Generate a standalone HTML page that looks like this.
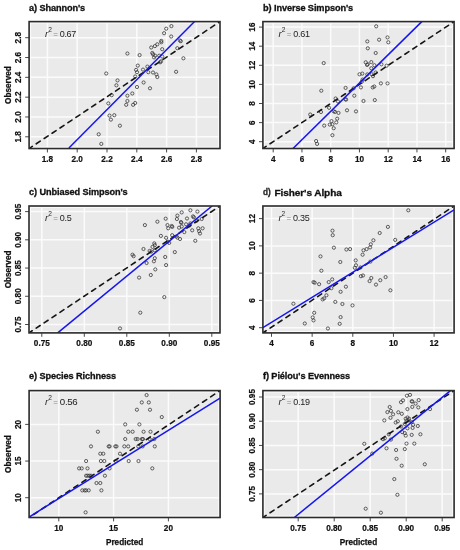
<!DOCTYPE html>
<html><head><meta charset="utf-8"><style>
html,body{margin:0;padding:0;background:#fff;}
svg{display:block;}
text{font-family:"Liberation Sans", Arial, sans-serif;fill:#1a1a1a;}
.tk{font-size:8.2px;font-weight:bold;fill:#111;stroke:#111;stroke-width:0.2px;}
.tt{font-size:9.2px;font-weight:bold;fill:#111;stroke:#111;stroke-width:0.3px;letter-spacing:-0.1px;}
.lab{font-size:8.2px;font-weight:bold;fill:#111;stroke:#111;stroke-width:0.25px;}
.r2{font-size:9.8px;fill:#2a2a2a;}
.sup{font-size:6.6px;fill:#2a2a2a;}
.eq{font-size:8px;fill:#8a8a8a;}
.num{font-size:8.7px;fill:#222;letter-spacing:-0.3px;}
</style></head><body>
<svg width="460" height="550" viewBox="0 0 460 550">
<clipPath id="c0"><rect x="29.1" y="21.6" width="190.9" height="126.95"/></clipPath>
<rect x="29.1" y="21.6" width="190.9" height="126.95" fill="#eaeaea"/>
<path d="M47.4 21.6V148.55M77.2 21.6V148.55M107 21.6V148.55M136.8 21.6V148.55M166.6 21.6V148.55M196.4 21.6V148.55M29.1 136.8H220M29.1 116.98H220M29.1 97.16H220M29.1 77.34H220M29.1 57.52H220M29.1 37.7H220" stroke="#fbfbfb" stroke-width="1.5" fill="none"/>
<rect x="30.5" y="23" width="188.1" height="124.15" fill="none" stroke="#fafafa" stroke-width="1.1"/>
<g fill="none" stroke="#3a3a3a" stroke-width="0.8"><circle cx="171.4" cy="26.1" r="1.6"/><circle cx="166.2" cy="28.7" r="1.6"/><circle cx="164.1" cy="33.2" r="1.6"/><circle cx="171.2" cy="36.5" r="1.6"/><circle cx="161.3" cy="40.9" r="1.6"/><circle cx="161.3" cy="42.3" r="1.6"/><circle cx="179.9" cy="40.5" r="1.6"/><circle cx="180.8" cy="41.2" r="1.6"/><circle cx="157.3" cy="44.3" r="1.6"/><circle cx="154.9" cy="46.1" r="1.6"/><circle cx="151.2" cy="47.5" r="1.6"/><circle cx="162.2" cy="49.2" r="1.6"/><circle cx="177.3" cy="48.2" r="1.6"/><circle cx="152.3" cy="53" r="1.6"/><circle cx="153" cy="54.3" r="1.6"/><circle cx="155.2" cy="55.7" r="1.6"/><circle cx="139.6" cy="55.1" r="1.6"/><circle cx="159.2" cy="55.7" r="1.6"/><circle cx="162.2" cy="56.5" r="1.6"/><circle cx="154" cy="57.4" r="1.6"/><circle cx="183.4" cy="58.3" r="1.6"/><circle cx="160.1" cy="62.3" r="1.6"/><circle cx="161" cy="61.4" r="1.6"/><circle cx="137.8" cy="65.6" r="1.6"/><circle cx="147.4" cy="66.6" r="1.6"/><circle cx="143" cy="69.6" r="1.6"/><circle cx="136.1" cy="69.9" r="1.6"/><circle cx="137" cy="72.2" r="1.6"/><circle cx="148.3" cy="72.2" r="1.6"/><circle cx="153" cy="72.5" r="1.6"/><circle cx="176.1" cy="71.8" r="1.6"/><circle cx="156.4" cy="74.4" r="1.6"/><circle cx="157.3" cy="77" r="1.6"/><circle cx="135.2" cy="76.5" r="1.6"/><circle cx="106.2" cy="73.5" r="1.6"/><circle cx="117.5" cy="80.4" r="1.6"/><circle cx="116.4" cy="85.3" r="1.6"/><circle cx="143.6" cy="82.5" r="1.6"/><circle cx="150" cy="88.3" r="1.6"/><circle cx="137" cy="87" r="1.6"/><circle cx="132.3" cy="93.5" r="1.6"/><circle cx="127.4" cy="95.7" r="1.6"/><circle cx="111.7" cy="95.2" r="1.6"/><circle cx="127.4" cy="101" r="1.6"/><circle cx="108.3" cy="103.4" r="1.6"/><circle cx="126.2" cy="104.8" r="1.6"/><circle cx="133.1" cy="104.8" r="1.6"/><circle cx="135.2" cy="103" r="1.6"/><circle cx="109.5" cy="115.6" r="1.6"/><circle cx="114.3" cy="115.2" r="1.6"/><circle cx="110.9" cy="119.6" r="1.6"/><circle cx="119.9" cy="125.7" r="1.6"/><circle cx="98.7" cy="134.3" r="1.6"/><circle cx="101.3" cy="143.9" r="1.6"/><circle cx="127.4" cy="53.5" r="1.6"/></g>
<g clip-path="url(#c0)">
<path d="M29.1 148.55L220 21.6" stroke="#151515" stroke-width="1.6" stroke-dasharray="4.76 4.76" stroke-dashoffset="0.92" stroke-linecap="round" fill="none"/>
<path d="M68.9 148L194.6 21.5" stroke="#1515f0" stroke-width="1.5" fill="none"/>
</g>
<rect x="29.1" y="21.6" width="190.9" height="126.95" fill="none" stroke="#2b2b2b" stroke-width="1.6"/>
<path d="M47.4 148.55v3.9M77.2 148.55v3.9M107 148.55v3.9M136.8 148.55v3.9M166.6 148.55v3.9M196.4 148.55v3.9M29.1 136.8h-3.9M29.1 116.98h-3.9M29.1 97.16h-3.9M29.1 77.34h-3.9M29.1 57.52h-3.9M29.1 37.7h-3.9" stroke="#333" stroke-width="0.9" fill="none"/>
<text class="tk" x="47.4" y="162" text-anchor="middle">1.8</text>
<text class="tk" x="77.2" y="162" text-anchor="middle">2.0</text>
<text class="tk" x="107" y="162" text-anchor="middle">2.2</text>
<text class="tk" x="136.8" y="162" text-anchor="middle">2.4</text>
<text class="tk" x="166.6" y="162" text-anchor="middle">2.6</text>
<text class="tk" x="196.4" y="162" text-anchor="middle">2.8</text>
<text class="tk" transform="translate(20.8 136.8) rotate(-90)" text-anchor="middle">1.8</text>
<text class="tk" transform="translate(20.8 116.98) rotate(-90)" text-anchor="middle">2.0</text>
<text class="tk" transform="translate(20.8 97.16) rotate(-90)" text-anchor="middle">2.2</text>
<text class="tk" transform="translate(20.8 77.34) rotate(-90)" text-anchor="middle">2.4</text>
<text class="tk" transform="translate(20.8 57.52) rotate(-90)" text-anchor="middle">2.6</text>
<text class="tk" transform="translate(20.8 37.7) rotate(-90)" text-anchor="middle">2.8</text>
<text class="tt" x="29" y="10.5">a) Shannon&#39;s</text>
<text class="r2" x="45" y="36.6" font-style="italic">r</text>
<text class="sup" x="48.2" y="31.9">2</text>
<text class="eq" x="53.2" y="36.8">=</text>
<text class="num" x="59.7" y="36.6" style="font-size:9px">0.67</text>
<text class="lab" transform="translate(11.3 85.08) rotate(-90)" text-anchor="middle">Observed</text>
<clipPath id="c1"><rect x="262.9" y="21.6" width="191.2" height="126.9"/></clipPath>
<rect x="262.9" y="21.6" width="191.2" height="126.9" fill="#eaeaea"/>
<path d="M273.2 21.6V148.5M301.95 21.6V148.5M330.7 21.6V148.5M359.45 21.6V148.5M388.2 21.6V148.5M416.95 21.6V148.5M445.7 21.6V148.5M262.9 141.7H454.1M262.9 122.6H454.1M262.9 103.5H454.1M262.9 84.4H454.1M262.9 65.3H454.1M262.9 46.2H454.1M262.9 27.1H454.1" stroke="#fbfbfb" stroke-width="1.5" fill="none"/>
<rect x="264.3" y="23" width="188.4" height="124.1" fill="none" stroke="#fafafa" stroke-width="1.1"/>
<g fill="none" stroke="#3a3a3a" stroke-width="0.8"><circle cx="376.2" cy="26.3" r="1.6"/><circle cx="367.3" cy="41.4" r="1.6"/><circle cx="379.1" cy="39.7" r="1.6"/><circle cx="387.5" cy="37.4" r="1.6"/><circle cx="388.3" cy="42.3" r="1.6"/><circle cx="367.8" cy="48.3" r="1.6"/><circle cx="375.7" cy="53" r="1.6"/><circle cx="365.7" cy="62.3" r="1.6"/><circle cx="367" cy="64.9" r="1.6"/><circle cx="367.8" cy="64.3" r="1.6"/><circle cx="371.3" cy="62.1" r="1.6"/><circle cx="374.4" cy="65.2" r="1.6"/><circle cx="381.4" cy="64.3" r="1.6"/><circle cx="386.6" cy="65.7" r="1.6"/><circle cx="371.3" cy="68.3" r="1.6"/><circle cx="359.5" cy="74.3" r="1.6"/><circle cx="362.3" cy="73.6" r="1.6"/><circle cx="367.3" cy="74.4" r="1.6"/><circle cx="371.8" cy="74.3" r="1.6"/><circle cx="375.7" cy="72.5" r="1.6"/><circle cx="373" cy="76.2" r="1.6"/><circle cx="362.6" cy="79.6" r="1.6"/><circle cx="361.7" cy="81.8" r="1.6"/><circle cx="345.6" cy="87.9" r="1.6"/><circle cx="353.6" cy="88.3" r="1.6"/><circle cx="360.9" cy="87.4" r="1.6"/><circle cx="372.7" cy="87.4" r="1.6"/><circle cx="374.3" cy="86.5" r="1.6"/><circle cx="380.9" cy="83.4" r="1.6"/><circle cx="387.5" cy="83.4" r="1.6"/><circle cx="346.1" cy="99.6" r="1.6"/><circle cx="354.3" cy="95.7" r="1.6"/><circle cx="363.5" cy="101" r="1.6"/><circle cx="374.8" cy="100.1" r="1.6"/><circle cx="347" cy="110.3" r="1.6"/><circle cx="356" cy="111.4" r="1.6"/><circle cx="321.3" cy="90.7" r="1.6"/><circle cx="335.6" cy="98.5" r="1.6"/><circle cx="338" cy="101.5" r="1.6"/><circle cx="345.4" cy="99.3" r="1.6"/><circle cx="329.1" cy="107.8" r="1.6"/><circle cx="321" cy="112" r="1.6"/><circle cx="310.2" cy="114.5" r="1.6"/><circle cx="333.7" cy="111.3" r="1.6"/><circle cx="335" cy="111.9" r="1.6"/><circle cx="338.5" cy="112.9" r="1.6"/><circle cx="337.2" cy="118.7" r="1.6"/><circle cx="331.5" cy="121.1" r="1.6"/><circle cx="336.3" cy="122.4" r="1.6"/><circle cx="329.8" cy="124.6" r="1.6"/><circle cx="332.4" cy="124.3" r="1.6"/><circle cx="324.2" cy="125.6" r="1.6"/><circle cx="333.7" cy="128.2" r="1.6"/><circle cx="332.4" cy="135.2" r="1.6"/><circle cx="316.1" cy="141" r="1.6"/><circle cx="317.1" cy="143.9" r="1.6"/><circle cx="323.7" cy="63.1" r="1.6"/></g>
<g clip-path="url(#c1)">
<path d="M262.9 148.5L454.1 21.6" stroke="#151515" stroke-width="1.6" stroke-dasharray="4.76 4.76" stroke-dashoffset="0.92" stroke-linecap="round" fill="none"/>
<path d="M293 148.5L421.8 21.6" stroke="#1515f0" stroke-width="1.5" fill="none"/>
</g>
<rect x="262.9" y="21.6" width="191.2" height="126.9" fill="none" stroke="#2b2b2b" stroke-width="1.6"/>
<path d="M273.2 148.5v3.9M301.95 148.5v3.9M330.7 148.5v3.9M359.45 148.5v3.9M388.2 148.5v3.9M416.95 148.5v3.9M445.7 148.5v3.9M262.9 141.7h-3.9M262.9 122.6h-3.9M262.9 103.5h-3.9M262.9 84.4h-3.9M262.9 65.3h-3.9M262.9 46.2h-3.9M262.9 27.1h-3.9" stroke="#333" stroke-width="0.9" fill="none"/>
<text class="tk" x="273.2" y="161.95" text-anchor="middle">4</text>
<text class="tk" x="301.95" y="161.95" text-anchor="middle">6</text>
<text class="tk" x="330.7" y="161.95" text-anchor="middle">8</text>
<text class="tk" x="359.45" y="161.95" text-anchor="middle">10</text>
<text class="tk" x="388.2" y="161.95" text-anchor="middle">12</text>
<text class="tk" x="416.95" y="161.95" text-anchor="middle">14</text>
<text class="tk" x="445.7" y="161.95" text-anchor="middle">16</text>
<text class="tk" transform="translate(254.6 141.7) rotate(-90)" text-anchor="middle">4</text>
<text class="tk" transform="translate(254.6 122.6) rotate(-90)" text-anchor="middle">6</text>
<text class="tk" transform="translate(254.6 103.5) rotate(-90)" text-anchor="middle">8</text>
<text class="tk" transform="translate(254.6 84.4) rotate(-90)" text-anchor="middle">10</text>
<text class="tk" transform="translate(254.6 65.3) rotate(-90)" text-anchor="middle">12</text>
<text class="tk" transform="translate(254.6 46.2) rotate(-90)" text-anchor="middle">14</text>
<text class="tk" transform="translate(254.6 27.1) rotate(-90)" text-anchor="middle">16</text>
<text class="tt" x="263" y="10.5">b) Inverse Simpson&#39;s</text>
<text class="r2" x="278.6" y="36.6" font-style="italic">r</text>
<text class="sup" x="281.8" y="31.9">2</text>
<text class="eq" x="286.8" y="36.8">=</text>
<text class="num" x="293.3" y="36.6" style="font-size:9px">0.61</text>
<clipPath id="c2"><rect x="29" y="206" width="191" height="126.9"/></clipPath>
<rect x="29" y="206" width="191" height="126.9" fill="#eaeaea"/>
<path d="M41.8 206V332.9M84.3 206V332.9M126.8 206V332.9M169.3 206V332.9M211.8 206V332.9M29 324.5H220M29 296.27H220M29 268.05H220M29 239.82H220M29 211.6H220" stroke="#fbfbfb" stroke-width="1.5" fill="none"/>
<rect x="30.4" y="207.4" width="188.2" height="124.1" fill="none" stroke="#fafafa" stroke-width="1.1"/>
<g fill="none" stroke="#3a3a3a" stroke-width="0.8"><circle cx="190.4" cy="210.3" r="1.6"/><circle cx="197.4" cy="211.6" r="1.6"/><circle cx="181.7" cy="212.4" r="1.6"/><circle cx="177.4" cy="215.6" r="1.6"/><circle cx="176.9" cy="219" r="1.6"/><circle cx="187" cy="218.5" r="1.6"/><circle cx="193" cy="216.4" r="1.6"/><circle cx="193.9" cy="217.3" r="1.6"/><circle cx="201.7" cy="219" r="1.6"/><circle cx="165.7" cy="218.7" r="1.6"/><circle cx="157.4" cy="221.7" r="1.6"/><circle cx="144.9" cy="225.1" r="1.6"/><circle cx="180.9" cy="222" r="1.6"/><circle cx="181.4" cy="222.9" r="1.6"/><circle cx="186.1" cy="224.3" r="1.6"/><circle cx="190.4" cy="223.4" r="1.6"/><circle cx="196.5" cy="220.8" r="1.6"/><circle cx="167.5" cy="225.1" r="1.6"/><circle cx="171.7" cy="226" r="1.6"/><circle cx="172.3" cy="226.9" r="1.6"/><circle cx="168.2" cy="228.3" r="1.6"/><circle cx="179.1" cy="227.7" r="1.6"/><circle cx="181.7" cy="226.5" r="1.6"/><circle cx="198.3" cy="228.3" r="1.6"/><circle cx="202.6" cy="228.3" r="1.6"/><circle cx="192.2" cy="230.3" r="1.6"/><circle cx="199.1" cy="231.2" r="1.6"/><circle cx="200" cy="233.5" r="1.6"/><circle cx="184.3" cy="232.1" r="1.6"/><circle cx="160.9" cy="235.9" r="1.6"/><circle cx="172.2" cy="235.2" r="1.6"/><circle cx="177.4" cy="237.7" r="1.6"/><circle cx="176.5" cy="236.4" r="1.6"/><circle cx="180" cy="239" r="1.6"/><circle cx="166.1" cy="237.8" r="1.6"/><circle cx="167.8" cy="241.7" r="1.6"/><circle cx="169.2" cy="242.9" r="1.6"/><circle cx="195.3" cy="240.8" r="1.6"/><circle cx="154.3" cy="243.4" r="1.6"/><circle cx="154.8" cy="245.1" r="1.6"/><circle cx="152.5" cy="246.9" r="1.6"/><circle cx="143.5" cy="249" r="1.6"/><circle cx="149.6" cy="250.9" r="1.6"/><circle cx="151.3" cy="251.6" r="1.6"/><circle cx="154.8" cy="250.3" r="1.6"/><circle cx="174.8" cy="252.1" r="1.6"/><circle cx="165.2" cy="257" r="1.6"/><circle cx="154.8" cy="258.2" r="1.6"/><circle cx="153.9" cy="261.3" r="1.6"/><circle cx="146.6" cy="263" r="1.6"/><circle cx="166.1" cy="265.1" r="1.6"/><circle cx="155.3" cy="269.4" r="1.6"/><circle cx="150.8" cy="275" r="1.6"/><circle cx="139.1" cy="277.6" r="1.6"/><circle cx="164.3" cy="297.1" r="1.6"/><circle cx="140.3" cy="312.7" r="1.6"/><circle cx="120" cy="328.4" r="1.6"/><circle cx="132.5" cy="254.7" r="1.6"/><circle cx="133.6" cy="256.2" r="1.6"/><circle cx="189.5" cy="225.5" r="1.6"/></g>
<g clip-path="url(#c2)">
<path d="M29 332.9L220 206" stroke="#151515" stroke-width="1.6" stroke-dasharray="4.76 4.76" stroke-dashoffset="0.92" stroke-linecap="round" fill="none"/>
<path d="M57.7 332.9L212.1 206" stroke="#1515f0" stroke-width="1.5" fill="none"/>
</g>
<rect x="29" y="206" width="191" height="126.9" fill="none" stroke="#2b2b2b" stroke-width="1.6"/>
<path d="M41.8 332.9v3.9M84.3 332.9v3.9M126.8 332.9v3.9M169.3 332.9v3.9M211.8 332.9v3.9M29 324.5h-3.9M29 296.27h-3.9M29 268.05h-3.9M29 239.82h-3.9M29 211.6h-3.9" stroke="#333" stroke-width="0.9" fill="none"/>
<text class="tk" x="41.8" y="346.35" text-anchor="middle">0.75</text>
<text class="tk" x="84.3" y="346.35" text-anchor="middle">0.80</text>
<text class="tk" x="126.8" y="346.35" text-anchor="middle">0.85</text>
<text class="tk" x="169.3" y="346.35" text-anchor="middle">0.90</text>
<text class="tk" x="211.8" y="346.35" text-anchor="middle">0.95</text>
<text class="tk" transform="translate(20.7 324.5) rotate(-90)" text-anchor="middle">0.75</text>
<text class="tk" transform="translate(20.7 296.27) rotate(-90)" text-anchor="middle">0.80</text>
<text class="tk" transform="translate(20.7 268.05) rotate(-90)" text-anchor="middle">0.85</text>
<text class="tk" transform="translate(20.7 239.82) rotate(-90)" text-anchor="middle">0.90</text>
<text class="tk" transform="translate(20.7 211.6) rotate(-90)" text-anchor="middle">0.95</text>
<text class="tt" x="29" y="195">c) Unbiased Simpson&#39;s</text>
<text class="r2" x="45.1" y="220.9" font-style="italic">r</text>
<text class="sup" x="48.3" y="216.2">2</text>
<text class="eq" x="53.3" y="221.1">=</text>
<text class="num" x="59.8" y="220.9" style="font-size:9px">0.5</text>
<text class="lab" transform="translate(11.3 269.45) rotate(-90)" text-anchor="middle">Observed</text>
<clipPath id="c3"><rect x="262.9" y="206" width="191.2" height="126.9"/></clipPath>
<rect x="262.9" y="206" width="191.2" height="126.9" fill="#eaeaea"/>
<path d="M271.5 206V332.9M312.15 206V332.9M352.8 206V332.9M393.45 206V332.9M434.1 206V332.9M262.9 327.7H454.1M262.9 300.42H454.1M262.9 273.15H454.1M262.9 245.88H454.1M262.9 218.6H454.1" stroke="#fbfbfb" stroke-width="1.5" fill="none"/>
<rect x="264.3" y="207.4" width="188.4" height="124.1" fill="none" stroke="#fafafa" stroke-width="1.1"/>
<g fill="none" stroke="#3a3a3a" stroke-width="0.8"><circle cx="332.5" cy="230.7" r="1.6"/><circle cx="332.7" cy="235.2" r="1.6"/><circle cx="333.9" cy="247.7" r="1.6"/><circle cx="320.5" cy="256.4" r="1.6"/><circle cx="340.3" cy="262" r="1.6"/><circle cx="346.4" cy="249.5" r="1.6"/><circle cx="350.1" cy="249.1" r="1.6"/><circle cx="355.7" cy="260.4" r="1.6"/><circle cx="356" cy="265.3" r="1.6"/><circle cx="362.6" cy="254.7" r="1.6"/><circle cx="363.5" cy="250.3" r="1.6"/><circle cx="366.6" cy="249.1" r="1.6"/><circle cx="370.1" cy="247.4" r="1.6"/><circle cx="370.8" cy="244.3" r="1.6"/><circle cx="373.4" cy="240.3" r="1.6"/><circle cx="379.7" cy="233" r="1.6"/><circle cx="408.3" cy="210.3" r="1.6"/><circle cx="387.9" cy="226.9" r="1.6"/><circle cx="395.2" cy="239.9" r="1.6"/><circle cx="321.4" cy="270.7" r="1.6"/><circle cx="313.5" cy="282.1" r="1.6"/><circle cx="314.7" cy="282.7" r="1.6"/><circle cx="319.1" cy="284.2" r="1.6"/><circle cx="328.7" cy="282.1" r="1.6"/><circle cx="332.2" cy="279.4" r="1.6"/><circle cx="331.4" cy="288.2" r="1.6"/><circle cx="345.9" cy="286.7" r="1.6"/><circle cx="340.6" cy="291.8" r="1.6"/><circle cx="326.4" cy="295.3" r="1.6"/><circle cx="322.6" cy="299.4" r="1.6"/><circle cx="324.1" cy="298.4" r="1.6"/><circle cx="335.3" cy="301.9" r="1.6"/><circle cx="342.4" cy="304" r="1.6"/><circle cx="293.4" cy="303.7" r="1.6"/><circle cx="314.2" cy="312.8" r="1.6"/><circle cx="312.7" cy="317.4" r="1.6"/><circle cx="313.5" cy="320.4" r="1.6"/><circle cx="304.8" cy="323.5" r="1.6"/><circle cx="340.6" cy="317.1" r="1.6"/><circle cx="339.7" cy="323.8" r="1.6"/><circle cx="327.9" cy="328.5" r="1.6"/><circle cx="354.8" cy="267.8" r="1.6"/><circle cx="360.5" cy="267.5" r="1.6"/><circle cx="370.4" cy="261.6" r="1.6"/><circle cx="360.9" cy="276.2" r="1.6"/><circle cx="363" cy="275.5" r="1.6"/><circle cx="371.3" cy="278" r="1.6"/><circle cx="369.6" cy="281.1" r="1.6"/><circle cx="380.3" cy="280.2" r="1.6"/><circle cx="385.6" cy="277.1" r="1.6"/><circle cx="376" cy="284.6" r="1.6"/><circle cx="390.4" cy="290.3" r="1.6"/><circle cx="352.5" cy="305.4" r="1.6"/></g>
<g clip-path="url(#c3)">
<path d="M262.9 332.9L454.1 206" stroke="#151515" stroke-width="1.6" stroke-dasharray="4.76 4.76" stroke-dashoffset="0.92" stroke-linecap="round" fill="none"/>
<path d="M262.9 327.6L454.1 209.9" stroke="#1515f0" stroke-width="1.5" fill="none"/>
</g>
<rect x="262.9" y="206" width="191.2" height="126.9" fill="none" stroke="#2b2b2b" stroke-width="1.6"/>
<path d="M271.5 332.9v3.9M312.15 332.9v3.9M352.8 332.9v3.9M393.45 332.9v3.9M434.1 332.9v3.9M262.9 327.7h-3.9M262.9 300.42h-3.9M262.9 273.15h-3.9M262.9 245.88h-3.9M262.9 218.6h-3.9" stroke="#333" stroke-width="0.9" fill="none"/>
<text class="tk" x="271.5" y="346.35" text-anchor="middle">4</text>
<text class="tk" x="312.15" y="346.35" text-anchor="middle">6</text>
<text class="tk" x="352.8" y="346.35" text-anchor="middle">8</text>
<text class="tk" x="393.45" y="346.35" text-anchor="middle">10</text>
<text class="tk" x="434.1" y="346.35" text-anchor="middle">12</text>
<text class="tk" transform="translate(254.6 327.7) rotate(-90)" text-anchor="middle">4</text>
<text class="tk" transform="translate(254.6 300.42) rotate(-90)" text-anchor="middle">6</text>
<text class="tk" transform="translate(254.6 273.15) rotate(-90)" text-anchor="middle">8</text>
<text class="tk" transform="translate(254.6 245.88) rotate(-90)" text-anchor="middle">10</text>
<text class="tk" transform="translate(254.6 218.6) rotate(-90)" text-anchor="middle">12</text>
<text class="tt" x="263" y="195" style="font-size:8.2px;fill:#333">d)</text>
<text class="tt" x="274.5" y="195.5" style="font-size:9.9px" textLength="67.2" lengthAdjust="spacingAndGlyphs">Fisher&#39;s Alpha</text>
<text class="r2" x="278.4" y="220.8" font-style="italic">r</text>
<text class="sup" x="281.6" y="216.1">2</text>
<text class="eq" x="286.6" y="221">=</text>
<text class="num" x="293.1" y="220.8" style="font-size:9px">0.35</text>
<clipPath id="c4"><rect x="29.1" y="390.6" width="191" height="126.9"/></clipPath>
<rect x="29.1" y="390.6" width="191" height="126.9" fill="#eaeaea"/>
<path d="M58.8 390.6V517.5M113.6 390.6V517.5M168.4 390.6V517.5M29.1 497.7H220.1M29.1 461.05H220.1M29.1 424.4H220.1" stroke="#fbfbfb" stroke-width="1.5" fill="none"/>
<rect x="30.5" y="392" width="188.2" height="124.1" fill="none" stroke="#fafafa" stroke-width="1.1"/>
<g fill="none" stroke="#3a3a3a" stroke-width="0.8"><circle cx="146.6" cy="395.08" r="1.6"/><circle cx="141.8" cy="402.41" r="1.6"/><circle cx="148.8" cy="402.41" r="1.6"/><circle cx="136.9" cy="409.74" r="1.6"/><circle cx="150" cy="409.74" r="1.6"/><circle cx="161.8" cy="417.07" r="1.6"/><circle cx="125.2" cy="424.4" r="1.6"/><circle cx="139.4" cy="424.4" r="1.6"/><circle cx="97.9" cy="431.73" r="1.6"/><circle cx="128.3" cy="431.73" r="1.6"/><circle cx="132.6" cy="431.73" r="1.6"/><circle cx="143.6" cy="431.73" r="1.6"/><circle cx="150.5" cy="431.73" r="1.6"/><circle cx="125.2" cy="439.06" r="1.6"/><circle cx="135.7" cy="439.06" r="1.6"/><circle cx="137.6" cy="439.06" r="1.6"/><circle cx="141.9" cy="439.06" r="1.6"/><circle cx="143" cy="439.06" r="1.6"/><circle cx="149.7" cy="439.06" r="1.6"/><circle cx="154.3" cy="439.06" r="1.6"/><circle cx="91" cy="446.39" r="1.6"/><circle cx="108.7" cy="446.39" r="1.6"/><circle cx="109.6" cy="446.39" r="1.6"/><circle cx="115.3" cy="446.39" r="1.6"/><circle cx="116.5" cy="446.39" r="1.6"/><circle cx="124.3" cy="446.39" r="1.6"/><circle cx="128.2" cy="446.39" r="1.6"/><circle cx="138.3" cy="446.39" r="1.6"/><circle cx="142.6" cy="446.39" r="1.6"/><circle cx="154.8" cy="446.39" r="1.6"/><circle cx="100.3" cy="453.72" r="1.6"/><circle cx="103.3" cy="453.72" r="1.6"/><circle cx="120" cy="453.72" r="1.6"/><circle cx="86.1" cy="461.05" r="1.6"/><circle cx="100.9" cy="461.05" r="1.6"/><circle cx="104.3" cy="461.05" r="1.6"/><circle cx="115.7" cy="461.05" r="1.6"/><circle cx="128.7" cy="461.05" r="1.6"/><circle cx="138.5" cy="461.05" r="1.6"/><circle cx="79.1" cy="468.38" r="1.6"/><circle cx="81.7" cy="468.38" r="1.6"/><circle cx="87.5" cy="468.38" r="1.6"/><circle cx="109.6" cy="468.38" r="1.6"/><circle cx="152.3" cy="468.38" r="1.6"/><circle cx="86.1" cy="475.71" r="1.6"/><circle cx="87.5" cy="475.71" r="1.6"/><circle cx="89.2" cy="475.71" r="1.6"/><circle cx="91" cy="475.71" r="1.6"/><circle cx="104.9" cy="475.71" r="1.6"/><circle cx="96.5" cy="483.04" r="1.6"/><circle cx="100.3" cy="483.04" r="1.6"/><circle cx="82.3" cy="490.37" r="1.6"/><circle cx="84.7" cy="490.37" r="1.6"/><circle cx="86.1" cy="490.37" r="1.6"/><circle cx="88.7" cy="490.37" r="1.6"/><circle cx="101.4" cy="490.37" r="1.6"/><circle cx="85.6" cy="512.36" r="1.6"/></g>
<g clip-path="url(#c4)">
<path d="M29.1 517.5L220.1 390.6" stroke="#151515" stroke-width="1.6" stroke-dasharray="4.83 4.83" stroke-dashoffset="4.2" stroke-linecap="round" fill="none"/>
<path d="M29.1 517L220.1 398.1" stroke="#1515f0" stroke-width="1.5" fill="none"/>
</g>
<rect x="29.1" y="390.6" width="191" height="126.9" fill="none" stroke="#2b2b2b" stroke-width="1.6"/>
<path d="M58.8 517.5v3.9M113.6 517.5v3.9M168.4 517.5v3.9M29.1 497.7h-3.9M29.1 461.05h-3.9M29.1 424.4h-3.9" stroke="#333" stroke-width="0.9" fill="none"/>
<text class="tk" x="58.8" y="530.95" text-anchor="middle">10</text>
<text class="tk" x="113.6" y="530.95" text-anchor="middle">15</text>
<text class="tk" x="168.4" y="530.95" text-anchor="middle">20</text>
<text class="tk" transform="translate(20.8 497.7) rotate(-90)" text-anchor="middle">10</text>
<text class="tk" transform="translate(20.8 461.05) rotate(-90)" text-anchor="middle">15</text>
<text class="tk" transform="translate(20.8 424.4) rotate(-90)" text-anchor="middle">20</text>
<text class="tt" x="29" y="379.3">e) Species Richness</text>
<text class="r2" x="45.1" y="405.1" font-style="italic">r</text>
<text class="sup" x="48.3" y="400.4">2</text>
<text class="eq" x="53.3" y="405.3">=</text>
<text class="num" x="59.8" y="405.1" style="font-size:9.7px">0.56</text>
<text class="lab" transform="translate(11.3 454.05) rotate(-90)" text-anchor="middle">Observed</text>
<text class="lab" x="124.6" y="545.1" text-anchor="middle">Predicted</text>
<clipPath id="c5"><rect x="262.9" y="390.6" width="191.2" height="126.9"/></clipPath>
<rect x="262.9" y="390.6" width="191.2" height="126.9" fill="#eaeaea"/>
<path d="M298.2 390.6V517.5M334.2 390.6V517.5M370.2 390.6V517.5M406.2 390.6V517.5M442.2 390.6V517.5M262.9 493.9H454.1M262.9 469.67H454.1M262.9 445.45H454.1M262.9 421.22H454.1M262.9 397H454.1" stroke="#fbfbfb" stroke-width="1.5" fill="none"/>
<rect x="264.3" y="392" width="188.4" height="124.1" fill="none" stroke="#fafafa" stroke-width="1.1"/>
<g fill="none" stroke="#3a3a3a" stroke-width="0.8"><circle cx="406.9" cy="395.7" r="1.6"/><circle cx="410" cy="394.9" r="1.6"/><circle cx="401" cy="402.2" r="1.6"/><circle cx="403" cy="400.4" r="1.6"/><circle cx="411.7" cy="401.3" r="1.6"/><circle cx="412.3" cy="401.5" r="1.6"/><circle cx="415.6" cy="403.6" r="1.6"/><circle cx="418.7" cy="400.1" r="1.6"/><circle cx="412.3" cy="406.9" r="1.6"/><circle cx="418.3" cy="407.4" r="1.6"/><circle cx="407.4" cy="409.1" r="1.6"/><circle cx="389.7" cy="407" r="1.6"/><circle cx="387.4" cy="412.1" r="1.6"/><circle cx="390.9" cy="410.9" r="1.6"/><circle cx="393.1" cy="414.3" r="1.6"/><circle cx="398.3" cy="412.3" r="1.6"/><circle cx="401.8" cy="413.8" r="1.6"/><circle cx="390.5" cy="417.8" r="1.6"/><circle cx="384.3" cy="420.4" r="1.6"/><circle cx="395.7" cy="422.5" r="1.6"/><circle cx="397.8" cy="421.3" r="1.6"/><circle cx="405.7" cy="418.7" r="1.6"/><circle cx="407.4" cy="417.5" r="1.6"/><circle cx="409.1" cy="418.7" r="1.6"/><circle cx="406.5" cy="421" r="1.6"/><circle cx="408.6" cy="420.4" r="1.6"/><circle cx="404.8" cy="423.9" r="1.6"/><circle cx="411.7" cy="422.2" r="1.6"/><circle cx="401" cy="426.5" r="1.6"/><circle cx="407.4" cy="428.3" r="1.6"/><circle cx="413.1" cy="424.8" r="1.6"/><circle cx="412.6" cy="427.9" r="1.6"/><circle cx="417.8" cy="426" r="1.6"/><circle cx="430" cy="409.1" r="1.6"/><circle cx="402.2" cy="432.1" r="1.6"/><circle cx="404.8" cy="433.1" r="1.6"/><circle cx="405.7" cy="435.6" r="1.6"/><circle cx="411.7" cy="434.9" r="1.6"/><circle cx="420.4" cy="434.3" r="1.6"/><circle cx="388.8" cy="434.3" r="1.6"/><circle cx="383" cy="439.2" r="1.6"/><circle cx="384.8" cy="438.3" r="1.6"/><circle cx="390.9" cy="439.6" r="1.6"/><circle cx="406.5" cy="443.6" r="1.6"/><circle cx="414.3" cy="443.6" r="1.6"/><circle cx="386.5" cy="448.3" r="1.6"/><circle cx="396.1" cy="450" r="1.6"/><circle cx="404.8" cy="449.1" r="1.6"/><circle cx="364.3" cy="443.8" r="1.6"/><circle cx="424.8" cy="464.3" r="1.6"/><circle cx="372.2" cy="453.6" r="1.6"/><circle cx="396.5" cy="458.8" r="1.6"/><circle cx="401.7" cy="465.7" r="1.6"/><circle cx="394.3" cy="479.1" r="1.6"/><circle cx="397.4" cy="494.8" r="1.6"/><circle cx="365.7" cy="508.7" r="1.6"/><circle cx="380.9" cy="512.7" r="1.6"/></g>
<g clip-path="url(#c5)">
<path d="M262.9 517.5L454.1 390.6" stroke="#151515" stroke-width="1.6" stroke-dasharray="4.76 4.76" stroke-dashoffset="0.92" stroke-linecap="round" fill="none"/>
<path d="M294.3 517.5L450.5 390.6" stroke="#1515f0" stroke-width="1.5" fill="none"/>
</g>
<rect x="262.9" y="390.6" width="191.2" height="126.9" fill="none" stroke="#2b2b2b" stroke-width="1.6"/>
<path d="M298.2 517.5v3.9M334.2 517.5v3.9M370.2 517.5v3.9M406.2 517.5v3.9M442.2 517.5v3.9M262.9 493.9h-3.9M262.9 469.67h-3.9M262.9 445.45h-3.9M262.9 421.22h-3.9M262.9 397h-3.9" stroke="#333" stroke-width="0.9" fill="none"/>
<text class="tk" x="298.2" y="530.95" text-anchor="middle">0.75</text>
<text class="tk" x="334.2" y="530.95" text-anchor="middle">0.80</text>
<text class="tk" x="370.2" y="530.95" text-anchor="middle">0.85</text>
<text class="tk" x="406.2" y="530.95" text-anchor="middle">0.90</text>
<text class="tk" x="442.2" y="530.95" text-anchor="middle">0.95</text>
<text class="tk" transform="translate(254.6 493.9) rotate(-90)" text-anchor="middle">0.75</text>
<text class="tk" transform="translate(254.6 469.67) rotate(-90)" text-anchor="middle">0.80</text>
<text class="tk" transform="translate(254.6 445.45) rotate(-90)" text-anchor="middle">0.85</text>
<text class="tk" transform="translate(254.6 421.22) rotate(-90)" text-anchor="middle">0.90</text>
<text class="tk" transform="translate(254.6 397) rotate(-90)" text-anchor="middle">0.95</text>
<text class="tt" x="263" y="379.3">f) Piélou&#39;s Evenness</text>
<text class="r2" x="278.6" y="405.1" font-style="italic">r</text>
<text class="sup" x="281.8" y="400.4">2</text>
<text class="eq" x="286.8" y="405.3">=</text>
<text class="num" x="293.3" y="405.1" style="font-size:9px">0.19</text>
<text class="lab" x="358.5" y="545.1" text-anchor="middle">Predicted</text>
</svg>
</body></html>
